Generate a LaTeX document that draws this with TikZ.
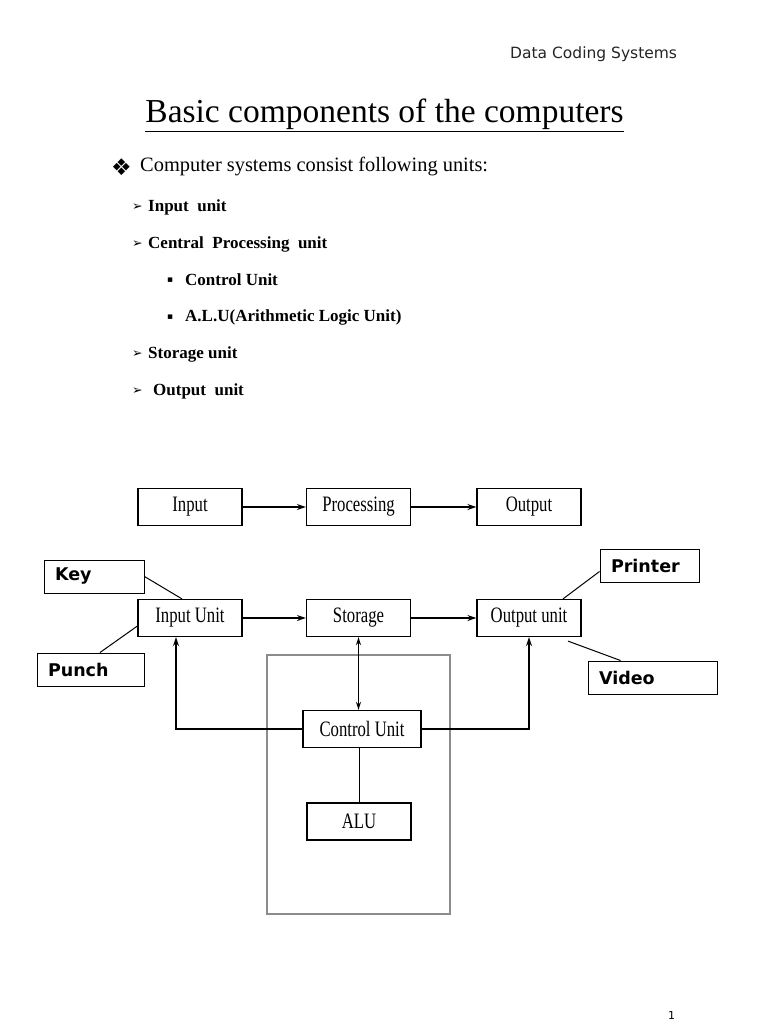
\documentclass[tikz,border=0pt]{standalone}
\usepackage{fontspec}
\usepackage{graphicx}
\setmainfont{Liberation Serif}
\newfontfamily\dejavu{DejaVu Sans}
\usetikzlibrary{arrows.meta}
\newcommand\condtxt[1]{\scalebox{0.76}[1]{#1}}
\begin{document}
\begin{tikzpicture}[x=1pt,y=-1pt,
  txt/.style={anchor=west,inner sep=0pt},
  hdrfont/.style={font=\dejavu\fontsize{15.5}{18}\selectfont},
  itemfont/.style={font=\bfseries\fontsize{17}{20}\selectfont},
  bullA/.style={anchor=west,inner sep=0pt,font=\dejavu\fontsize{12.5}{14}\selectfont},
  bullB/.style={anchor=west,inner sep=0pt,font=\dejavu\fontsize{9}{11}\selectfont},
  unitbox/.style={draw,line width=1.2pt,minimum width=104pt,minimum height=37pt,inner sep=0pt,font=\fontsize{22}{24}\selectfont},
  lbl/.style={draw,line width=1pt,minimum height=33pt,inner xsep=11pt,inner ysep=0pt,align=left,font=\dejavu\bfseries\fontsize{17.5}{20}\selectfont},
  arr/.style={line width=1.8pt,-{Stealth[length=9pt,width=6pt]}},
  darr/.style={line width=1.6pt,{Stealth[length=8pt,width=5pt]}-{Stealth[length=8pt,width=5pt]}},
  thin/.style={line width=1pt}
]
\useasboundingbox[fill=white] (0,0) rectangle (768,1024);

% header
\node[txt,hdrfont,text=black!85] (hdr) at (510,54) {Data Coding Systems};
% title
\node[inner sep=0pt,font=\fontsize{33.5}{38}\selectfont] (title) at (384.5,115) {\underline{Basic components of the computers}};

% list
\node[txt,font=\dejavu\fontsize{23}{25}\selectfont] (dia) at (111,167) {❖};
\node[txt,font=\fontsize{20.4}{23}\selectfont] (l0) at (140,167) {Computer systems consist following units:};
\node[bullA] (b1) at (132,207) {➢};
\node[txt,itemfont] (l1) at (148,207) {Input\ \ unit};
\node[bullA] (b2) at (132,244) {➢};
\node[txt,itemfont] (l2) at (148,244) {Central\ \ Processing\ \ unit};
\node[bullB] (b3) at (167,280) {▪};
\node[txt,itemfont] (l3) at (185,280) {Control Unit};
\node[bullB] (b4) at (167,317) {▪};
\node[txt,itemfont] (l4) at (185,317) {A.L.U(Arithmetic Logic Unit)};
\node[bullA] (b5) at (132,354) {➢};
\node[txt,itemfont] (l5) at (148,354) {Storage unit};
\node[bullA] (b6) at (132,391) {➢};
\node[txt,itemfont] (l6) at (153,391) {Output\ \ unit};

% outer CPU frame
\node[draw=black!45,line width=1.2pt,minimum width=183pt,minimum height=259pt,inner sep=0pt] (cpu) at (358.5,784.5) {};

% top row
\node[unitbox] (in) at (190,507) {\condtxt{Input}};
\node[unitbox] (proc) at (358.5,507) {\condtxt{Processing}};
\node[unitbox] (out) at (529,507) {\condtxt{Output}};

% second row
\node[unitbox] (iu) at (190,618) {\condtxt{Input Unit}};
\node[unitbox] (st) at (358.5,618) {\condtxt{Storage}};
\node[unitbox] (ou) at (529,618) {\condtxt{Output unit}};

% CPU contents
\node[unitbox,minimum width=118pt] (cu) at (362,729) {\condtxt{Control Unit}};
\node[unitbox] (alu) at (359,821.5) {\condtxt{ALU}};

% labels
\node[lbl,text width=78pt] (key) at (94,576.5) {Key};
\node[lbl,text width=85pt] (punch) at (90.5,669.5) {Punch};
\node[lbl,text width=77pt] (printer) at (649.5,565.5) {Printer};
\node[lbl,text width=107pt] (video) at (652.5,677.5) {Video};

% connectors
\draw[arr] (in) -- (proc);
\draw[arr] (proc) -- (out);
\draw[arr] (iu) -- (st);
\draw[arr] (st) -- (ou);
\draw[darr] (st.south) -- (st.south |- cu.north);
\draw[arr] (cu.west) -| ([xshift=-14pt]iu.south);
\draw[arr] (cu.east) -| (ou.south);
\draw[thin] (alu.north |- cu.south) -- (alu.north);

\draw[thin] (key.east) -- ([xshift=-8pt]iu.north);
\draw[thin] ([xshift=9.5pt]punch.north) -- ([yshift=-8pt]iu.west);
\draw[thin] ([yshift=-6pt]printer.west) -- ([xshift=34pt]ou.north);
\draw[thin] ([xshift=39pt,yshift=-4pt]ou.south) -- ([xshift=-32pt]video.north);

% page number
\node[txt,font=\dejavu\fontsize{11}{13}\selectfont] (pg) at (668,1015) {1};
\end{tikzpicture}
\end{document}
